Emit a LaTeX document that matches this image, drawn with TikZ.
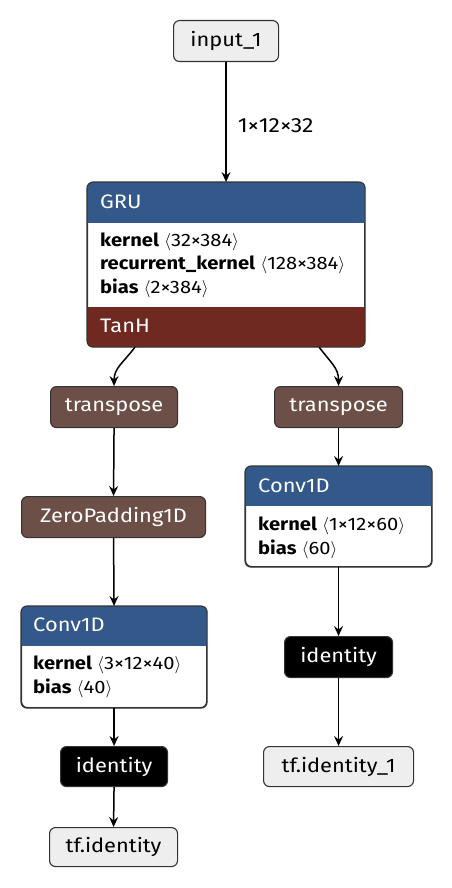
\documentclass[tikz,border=0pt]{standalone}
\usepackage{fontspec}
\setmainfont{Fira Sans}[FakeStretch=1.12]
\usetikzlibrary{arrows.meta,calc}
\definecolor{layerblue}{RGB}{51,88,138}
\definecolor{shapebrown}{RGB}{108,79,71}
\definecolor{actred}{RGB}{112,41,33}
\definecolor{iogray}{RGB}{238,238,238}
\definecolor{bordc}{RGB}{51,51,51}
\newcommand{\ttlfont}{\fontsize{19.5}{22}\selectfont}
\newcommand{\bodyfont}{\fontsize{18}{20}\selectfont}
\newcommand{\lblfont}{\fontsize{20.5}{22}\selectfont}
\newcommand{\ang}[1]{$\langle$#1$\rangle$}
\begin{document}
\begin{tikzpicture}[x=1pt,y=-1pt,
  box/.style={draw=bordc, line width=1.1pt, rounded corners=6pt, inner sep=0pt, font=\ttlfont, anchor=north west},
  iobox/.style={box, fill=iogray, text=black},
  shp/.style={box, fill=shapebrown, text=white},
  blk/.style={box, fill=black, text=white},
  lyr/.style={box, fill=white},
  ttl/.style={text=white, font=\ttlfont, anchor=west, inner sep=0pt},
  bod/.style={text=black, font=\bodyfont, anchor=west, inner sep=0pt},
  border/.style={draw=bordc, line width=1.1pt, rounded corners=6pt},
  arr/.style={-{Stealth[length=10pt,width=9pt,inset=3.5pt]}, line width=1.5pt, draw=black}]
\fill[white] (0,0) rectangle (452,888);
\useasboundingbox (0,0) rectangle (452,888);

% simple nodes
\node[iobox, minimum width=105pt, minimum height=41pt] (in1) at (173,20) {input\_1};
\node[shp, minimum width=127pt, minimum height=41pt] (tl) at (50,386) {transpose};
\node[shp, minimum width=128pt, minimum height=41pt] (tr) at (274,386) {transpose};
\node[shp, minimum width=184pt, minimum height=41pt] (zp) at (21,496) {ZeroPadding1D};
\node[blk, minimum width=107pt, minimum height=40pt] (idl) at (60,746) {identity};
\node[iobox, minimum width=128pt, minimum height=39pt] (tfi) at (49,827) {tf.identity};
\node[blk, minimum width=108pt, minimum height=41pt] (idr) at (284,636) {identity};
\node[iobox, minimum width=150pt, minimum height=40pt] (tfi1) at (263,746) {tf.identity\_1};

% GRU
\node[lyr, minimum width=277pt, minimum height=164pt] (gru) at (87,182) {};
\begin{scope}
\clip[rounded corners=6pt] (gru.north west) rectangle (gru.south east);
\fill[layerblue] (gru.north west) rectangle ($(gru.north east)+(0,41)$);
\fill[actred] ($(gru.south west)+(0,-40)$) rectangle (gru.south east);
\end{scope}
\draw[border] (gru.north west) rectangle (gru.south east);
\node[ttl] (grut) at (100,202) {GRU};
\node[bod] (gruk) at (100,242) {\textbf{kernel}~\ang{32×384}};
\node[bod] (grur) at (100,265) {\textbf{recurrent\_kernel}~\ang{128×384}};
\node[bod] (grub) at (100,288) {\textbf{bias}~\ang{2×384}};
\node[ttl] (grua) at (100,326) {TanH};

% Conv1D right
\node[lyr, minimum width=186pt, minimum height=100pt] (cr) at (245,466) {};
\begin{scope}
\clip[rounded corners=6pt] (cr.north west) rectangle (cr.south east);
\fill[layerblue] (cr.north west) rectangle ($(cr.north east)+(0,40)$);
\end{scope}
\draw[border] (cr.north west) rectangle (cr.south east);
\node[ttl] (crt) at (258,486) {Conv1D};
\node[bod] (crk) at (258,526) {\textbf{kernel}~\ang{1×12×60}};
\node[bod] (crb) at (258,549) {\textbf{bias}~\ang{60}};

% Conv1D left
\node[lyr, minimum width=185pt, minimum height=101pt] (cl) at (21,606) {};
\begin{scope}
\clip[rounded corners=6pt] (cl.north west) rectangle (cl.south east);
\fill[layerblue] (cl.north west) rectangle ($(cl.north east)+(0,40)$);
\end{scope}
\draw[border] (cl.north west) rectangle (cl.south east);
\node[ttl] (clt) at (33,625) {Conv1D};
\node[bod] (clk) at (33,665) {\textbf{kernel}~\ang{3×12×40}};
\node[bod] (clb) at (33,688) {\textbf{bias}~\ang{40}};

% edges
\draw[arr] (in1.south) -- node[right, font=\lblfont, inner sep=0pt, xshift=11pt, pos=0.53] (lbl) {1×12×32} (gru.north);
\draw[arr] ($(gru.south west)+(48,0)$) .. controls +(-12,16) and +(0,-18) .. (tl.north);
\draw[arr] ($(gru.south east)+(-46,0)$) .. controls +(12,16) and +(0,-18) .. (tr.north);
\draw[arr] (tl.south) -- (zp.north);
\draw[arr] (zp.south) -- (cl.north);
\draw[arr] (cl.south) -- (idl.north);
\draw[arr] (idl.south) -- (tfi.north);
\draw[arr] (tr.south) -- (cr.north);
\draw[arr] (cr.south) -- (idr.north);
\draw[arr] (idr.south) -- (tfi1.north);
\end{tikzpicture}
\end{document}
